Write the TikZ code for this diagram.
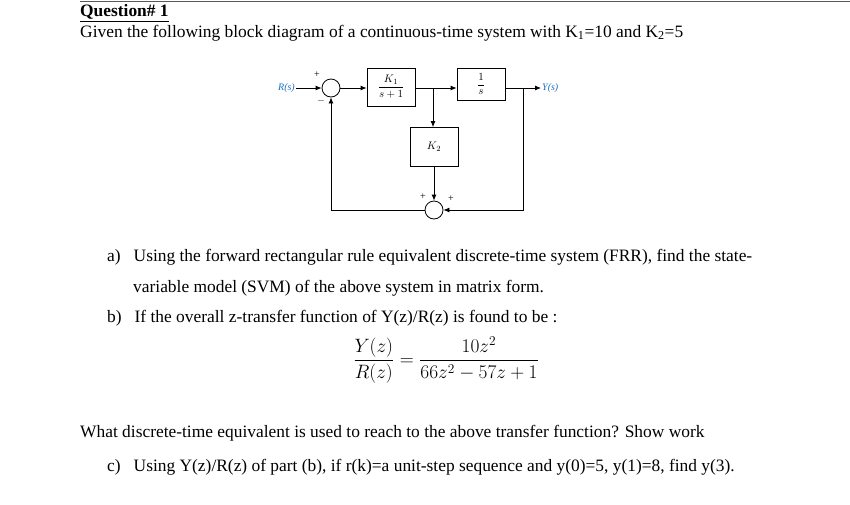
\documentclass[tikz,border=0pt]{standalone}
\usepackage{fontspec}
\setmainfont{Liberation Serif}
\usetikzlibrary{arrows.meta}
\begin{document}
\begin{tikzpicture}[x=1pt,y=-1pt,
  txt/.style={anchor=west,inner sep=0pt,font=\fontsize{17.4}{20}\selectfont},
  blk/.style={draw,thick,minimum width=48pt,inner sep=0pt,font=\fontsize{11}{12}\selectfont},
  sumc/.style={draw,thick,circle,minimum size=18pt,inner sep=0pt},
  wire/.style={thick,-{Latex[length=6pt,width=5pt]}},
  lab/.style={font=\fontsize{10}{11}\selectfont\itshape,text=cyan!50!blue,inner sep=1pt},
  sgn/.style={font=\fontsize{10}{11}\selectfont,inner sep=0pt}]
\useasboundingbox (0,0) rectangle (850,504);
\coordinate (tl) at (80,1); \coordinate (tr) at (850,1);
\draw[thick,gray!70!black] (tl) -- (tr);
\node[txt,font=\fontsize{17.4}{20}\selectfont\bfseries] (q) at (80,13) {\underline{Question\# 1}};
\node[txt] (g) at (80,33) {Given the following block diagram of a continuous-time system with K\textsubscript{1}=10 and K\textsubscript{2}=5};
% diagram
\node[lab,anchor=east] (R) at (296,88) {R(s)};
\node[sumc] (s1) at (331,88) {};
\node[blk,minimum height=38pt] (b1) at (391,87) {$\displaystyle\frac{K_1}{s+1}$};
\node[blk,minimum height=32pt] (b2) at (481,84) {$\displaystyle\frac{1}{s}$};
\node[blk,minimum height=39pt] (b3) at (434,147) {$K_2$};
\node[sumc] (s2) at (434,210) {};
\node[lab,anchor=west] (Y) at (541,88) {Y(s)};
\coordinate (j1) at (433,88);
\coordinate (j2) at (523,88);
\draw[wire] (R) -- (s1);
\draw[wire] (s1) -- (b1.west|-s1);
\draw[thick] (b1.east|-j1) -- (j1);
\draw[wire] (j1) -- (b2.west|-j1);
\draw[wire] (j1) -- (b3.north-|j1);
\draw[thick] (b2.east|-j2) -- (j2);
\draw[wire] (j2) -- (Y);
\draw[wire] (j2) |- (s2);
\draw[wire] (b3) -- (s2);
\draw[wire] (s2) -| (s1);
\node[sgn] (p1) at (317,75) {+};
\node[sgn] (m1) at (321,101) {$-$};
\node[sgn] (p2) at (423,197) {+};
\node[sgn] (p3) at (451,199) {+};
% text
\node[txt] (a) at (107,257) {a)\hspace{13pt}Using the forward rectangular rule equivalent discrete-time system (FRR), find the state-};
\node[txt] (a2) at (133,288) {variable model (SVM) of the above system in matrix form.};
\node[txt] (b) at (107,318) {b)\hspace{13pt}If the overall z-transfer function of Y(z)/R(z) is found to be :};
\node[inner sep=0pt,font=\fontsize{17.4}{20}\selectfont,scale=1.12,transform shape] (eq) at (446,360) {$\displaystyle\frac{Y(z)}{R(z)}=\frac{10z^2}{66z^2-57z+1}$};
\node[txt] (w) at (80,433) {What discrete-time equivalent is used to reach to the above transfer function? Show work};
\node[txt] (c) at (107,467) {c)\hspace{13pt}Using Y(z)/R(z) of part (b), if r(k)=a unit-step sequence and y(0)=5, y(1)=8, find y(3).};
\end{tikzpicture}
\end{document}
